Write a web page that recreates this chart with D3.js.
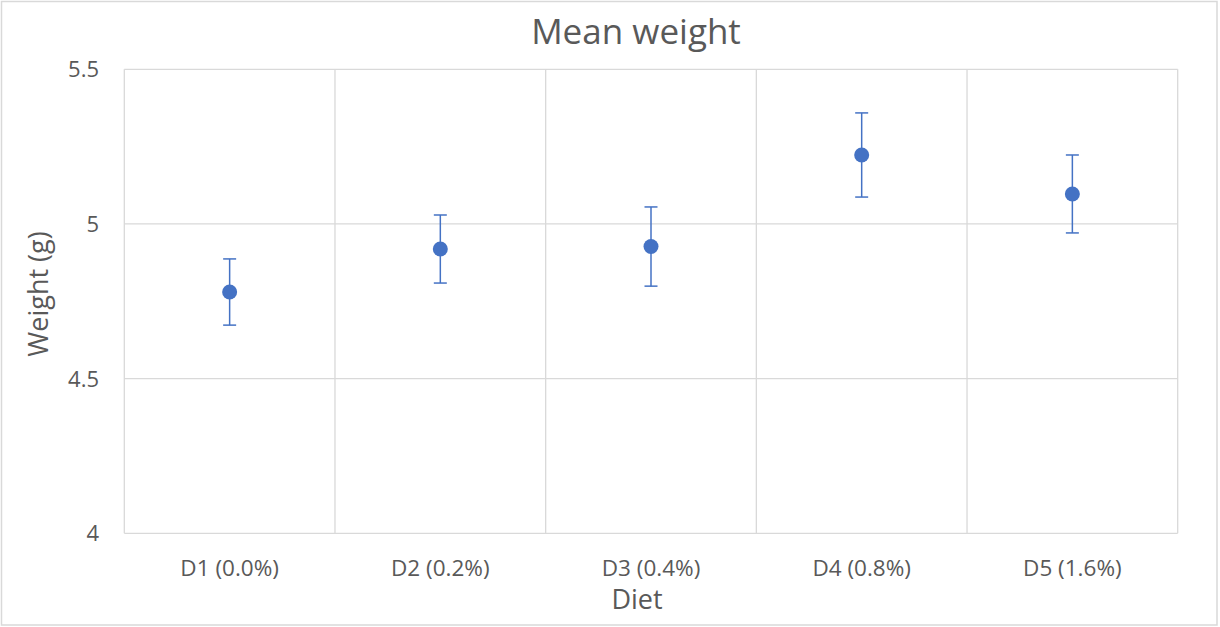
<!DOCTYPE html>
<html>
<head>
<meta charset="utf-8">
<script src="https://cdn.jsdelivr.net/npm/d3@7"></script>
<style>
  body { margin: 0; background: #fff; }
  text { font-family: "Open Sans", sans-serif; fill: #595959; }
</style>
</head>
<body>
<svg class="chart" width="1220" height="627"></svg>
<script>
"use strict";

const diets = ['D1 (0.0%)', 'D2 (0.2%)', 'D3 (0.4%)', 'D4 (0.8%)', 'D5 (1.6%)'];
const meanWeight = [4.780, 4.919, 4.927, 5.223, 5.097];
const errWeight = [0.107, 0.110, 0.128, 0.136, 0.126];
const yTicks = [4, 4.5, 5, 5.5];

let svg = d3.select('.chart');

// Chart frame
svg.append('rect')
   .attr('x', 1.5).attr('y', 1.5)
   .attr('width', 1215.5).attr('height', 623.5)
   .attr('fill', '#fff')
   .attr('stroke', '#d9d9d9')
   .attr('stroke-width', 1.5);

const plot = { left: 124.3, right: 1177.7, top: 69.3, bottom: 533.3 };

const x = d3.scaleBand()
            .domain(diets)
            .range([plot.left, plot.right])
            .padding(0);
const y = d3.scaleLinear()
            .domain([4, 5.5])
            .range([plot.bottom, plot.top]);

let grid = svg.append('g')
              .attr('stroke', '#d9d9d9')
              .attr('stroke-width', 1.3);

// Horizontal gridlines
grid.selectAll('.hgrid')
    .data(yTicks)
    .enter()
    .append('line')
    .attr('x1', plot.left).attr('x2', plot.right)
    .attr('y1', d => y(d)).attr('y2', d => y(d));

// Vertical lines between categories
let edges = diets.map(d => x(d)).concat([x(diets[diets.length - 1]) + x.bandwidth()]);
grid.selectAll('.vgrid')
    .data(edges)
    .enter()
    .append('line')
    .attr('x1', d => d).attr('x2', d => d)
    .attr('y1', plot.top).attr('y2', plot.bottom);

// Y tick labels
svg.append('g')
   .selectAll('text')
   .data(yTicks)
   .enter()
   .append('text')
   .attr('x', 99)
   .attr('y', d => y(d))
   .attr('dy', '0.36em')
   .attr('text-anchor', 'end')
   .style('font-size', '22px')
   .text(d => d);

// Category labels
svg.append('g')
   .selectAll('text')
   .data(diets)
   .enter()
   .append('text')
   .attr('x', d => x(d) + x.bandwidth() / 2)
   .attr('y', 576)
   .attr('text-anchor', 'middle')
   .style('font-size', '22.5px')
   .text(d => d);

// Error bars
let cap = 6.5;
let bars = svg.append('g')
              .attr('stroke', '#4472c4')
              .attr('stroke-width', 1.5);
diets.forEach((d, i) => {
  let cx = x(d) + x.bandwidth() / 2;
  let hi = y(meanWeight[i] + errWeight[i]);
  let lo = y(meanWeight[i] - errWeight[i]);
  bars.append('line').attr('x1', cx).attr('x2', cx).attr('y1', hi).attr('y2', lo);
  bars.append('line').attr('x1', cx - cap).attr('x2', cx + cap).attr('y1', hi).attr('y2', hi);
  bars.append('line').attr('x1', cx - cap).attr('x2', cx + cap).attr('y1', lo).attr('y2', lo);
});

// Points
svg.append('g')
   .selectAll('circle')
   .data(diets)
   .enter()
   .append('circle')
   .attr('cx', d => x(d) + x.bandwidth() / 2)
   .attr('cy', (d, i) => y(meanWeight[i]))
   .attr('r', 7.5)
   .attr('fill', '#4472c4');

// Titles
svg.append('text')
   .attr('x', 636).attr('y', 44)
   .attr('text-anchor', 'middle')
   .style('font-size', '35px')
   .text('Mean weight');

svg.append('text')
   .attr('x', 637).attr('y', 609)
   .attr('text-anchor', 'middle')
   .style('font-size', '27px')
   .text('Diet');

svg.append('text')
   .attr('transform', 'translate(48, 294) rotate(-90)')
   .attr('text-anchor', 'middle')
   .style('font-size', '27px')
   .text('Weight (g)');
</script>
</body>
</html>
